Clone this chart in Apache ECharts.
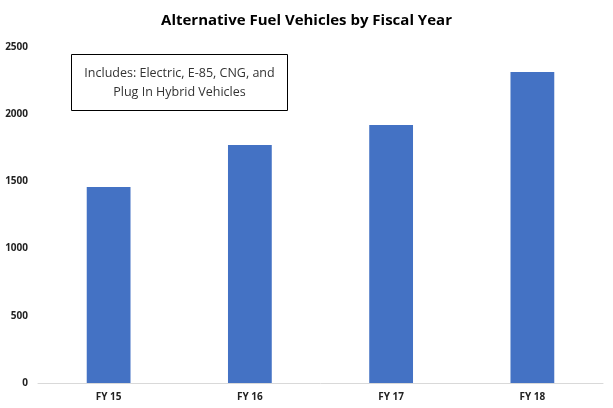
<!DOCTYPE html>
<html>
<head>
<meta charset="utf-8">
<script src="https://cdn.jsdelivr.net/npm/echarts@6/dist/echarts.min.js"></script>
<style>
    html, body { margin: 0; padding: 0; background: #fff; }
    #chart { width: 613px; height: 408px; }
</style>
</head>
<body>
<div id="chart"></div>
<script>
const YEARS = ['FY 15', 'FY 16', 'FY 17', 'FY 18']
const VEHICLES = [1458, 1771, 1920, 2314]
const NOTE_LINES = ['Includes: Electric, E-85, CNG, and', 'Plug In Hybrid Vehicles']

const FONT = '"Open Sans", "Liberation Sans", sans-serif'

let chart = echarts.init(document.getElementById('chart'))

chart.setOption({
    animation: false,
    title: {
        text: 'Alternative Fuel Vehicles by Fiscal Year',
        left: 'center',
        top: 8,
        textStyle: { fontFamily: FONT, fontSize: 15, fontWeight: 'bold', color: '#000' }
    },
    grid: { left: 38, right: 10, top: 47, bottom: 25 },
    xAxis: {
        type: 'category',
        data: YEARS,
        axisLine: { lineStyle: { color: '#d9d9d9' } },
        axisTick: { show: false },
        axisLabel: { fontFamily: FONT, fontSize: 10, fontWeight: 'bold', color: '#222', margin: 9 }
    },
    yAxis: {
        type: 'value',
        min: 0,
        max: 2500,
        interval: 500,
        splitLine: { show: false },
        axisLine: { show: false },
        axisTick: { show: false },
        axisLabel: {
            fontFamily: FONT, fontSize: 10, fontWeight: 'bold', color: '#222', margin: 10,
            formatter: (v) => String(v)
        }
    },
    series: [{
        type: 'bar',
        data: VEHICLES,
        barWidth: '31%',
        itemStyle: { color: '#4472c4' }
    }],
    graphic: [{
        type: 'group',
        left: 71,
        top: 54,
        children: [{
            type: 'rect',
            shape: { x: 0, y: 0, width: 216, height: 56 },
            style: { fill: '#fff', stroke: '#000', lineWidth: 1 }
        }, {
            type: 'text',
            x: 108,
            y: 28,
            style: {
                text: NOTE_LINES.join('\n'),
                align: 'center',
                verticalAlign: 'middle',
                fontFamily: FONT,
                fontSize: 12.5,
                lineHeight: 19,
                fill: '#333'
            }
        }]
    }]
})
</script>
</body>
</html>
